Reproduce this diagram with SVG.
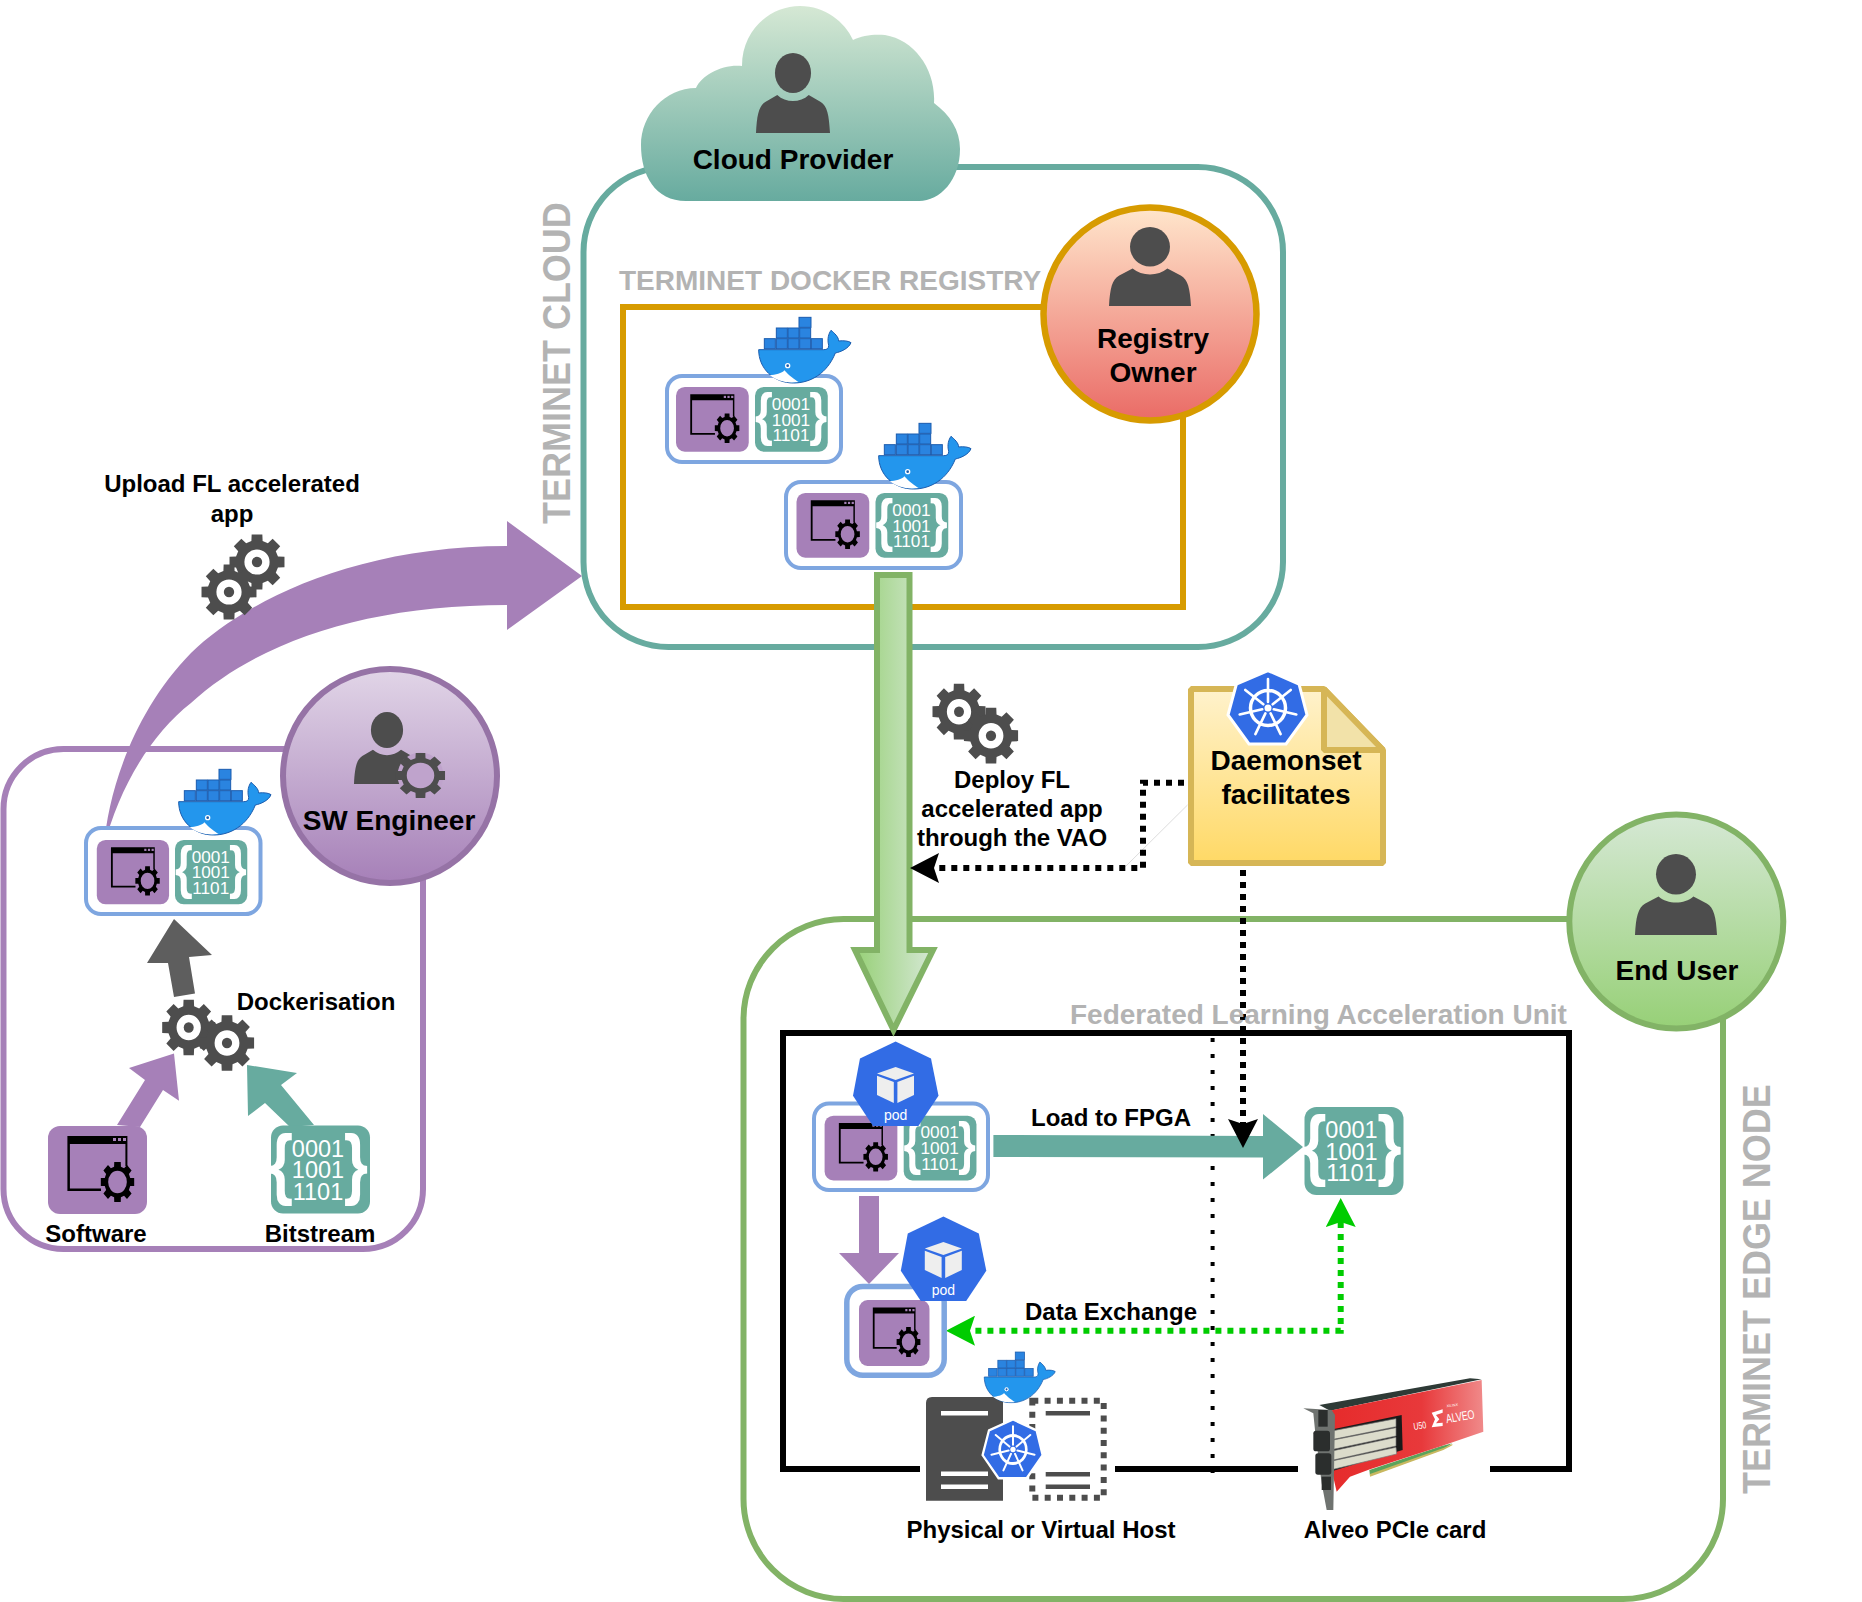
<svg xmlns="http://www.w3.org/2000/svg" width="1862" height="1602" viewBox="0 0 1862 1602">
<style>
text{font-family:"Liberation Sans",Arial,sans-serif}
.b{font-weight:700;fill:#000;text-anchor:middle;font-size:24px}
.h{font-weight:700;fill:#000;text-anchor:middle;font-size:28px}
.g{font-weight:700;fill:#B3B3B3;font-size:28px}
.v{font-weight:700;fill:#B3B3B3;font-size:36px}
.n{fill:#fff;font-size:23.5px;text-anchor:middle}
.br{fill:#fff;font-size:78px;font-weight:700;text-anchor:middle}
.pod{fill:#fff;font-size:14px;text-anchor:middle}
.box{fill:#fff;stroke:#7EA6E0;stroke-width:4}
.tl{fill:#67AB9F}.pu{fill:#A680B8}
.dk{fill:#4D4D4D}
.dot{fill:none;stroke:#000;stroke-width:6;stroke-dasharray:6 6}
.gdot{fill:none;stroke:#00CC00;stroke-width:6;stroke-dasharray:6 6}
.frame{fill:none}
.hp{fill:#326CE5}
</style>
<defs>
<linearGradient id="gCloud" x1="0" y1="0" x2="0" y2="1"><stop offset="0" stop-color="#D5E8D4"/><stop offset="1" stop-color="#67AB9F"/></linearGradient>
<linearGradient id="gOwner" x1="0" y1="0" x2="0" y2="1"><stop offset="0" stop-color="#FFE6CC"/><stop offset="1" stop-color="#EA6B66"/></linearGradient>
<linearGradient id="gSw" x1="0" y1="0" x2="0" y2="1"><stop offset="0" stop-color="#E1D5E7"/><stop offset="1" stop-color="#A680B8"/></linearGradient>
<linearGradient id="gEnd" x1="0" y1="0" x2="0" y2="1"><stop offset="0" stop-color="#D5E8D4"/><stop offset="1" stop-color="#97D077"/></linearGradient>
<linearGradient id="gNote" x1="0" y1="0" x2="0" y2="1"><stop offset="0" stop-color="#FFF2CC"/><stop offset="1" stop-color="#FFD966"/></linearGradient>
<linearGradient id="gDep" x1="0" y1="0" x2="1" y2="0"><stop offset="0" stop-color="#97D077"/><stop offset="1" stop-color="#D5E8D4"/></linearGradient>
<linearGradient id="gRed" x1="0" y1="0" x2="1" y2="0"><stop offset="0" stop-color="#E62B2B"/><stop offset=".6" stop-color="#E8393B"/><stop offset="1" stop-color="#F08A8A"/></linearGradient>
<marker id="aK" markerUnits="userSpaceOnUse" markerWidth="30" markerHeight="30" viewBox="0 0 30 30" refX="5" refY="15" orient="auto"><polygon points="0,0 29,15 0,30 5,15" fill="#000"/></marker>
<marker id="aG" markerUnits="userSpaceOnUse" markerWidth="30" markerHeight="30" viewBox="0 0 30 30" refX="5" refY="15" orient="auto-start-reverse"><polygon points="0,0 29,15 0,30 5,15" fill="#00CC00"/></marker>
<path id="gearP" fill-rule="evenodd" d="M14.97,-4.01 19.63,-3.82 19.63,3.82 14.97,4.01 13.42,7.75 16.58,11.18 11.18,16.58 7.75,13.42 4.01,14.97 3.82,19.63 -3.82,19.63 -4.01,14.97 -7.75,13.42 -11.18,16.58 -16.58,11.18 -13.42,7.75 -14.97,4.01 -19.63,3.82 -19.63,-3.82 -14.97,-4.01 -13.42,-7.75 -16.58,-11.18 -11.18,-16.58 -7.75,-13.42 -4.01,-14.97 -3.82,-19.63 3.82,-19.63 4.01,-14.97 7.75,-13.42 11.18,-16.58 16.58,-11.18 13.42,-7.75 Z M9,0 A9,9 0 1 0 -9,0 A9,9 0 1 0 9,0 Z"/>
<path id="gearW" fill-rule="evenodd" d="M14.97,-4.01 19.63,-3.82 19.63,3.82 14.97,4.01 13.42,7.75 16.58,11.18 11.18,16.58 7.75,13.42 4.01,14.97 3.82,19.63 -3.82,19.63 -4.01,14.97 -7.75,13.42 -11.18,16.58 -16.58,11.18 -13.42,7.75 -14.97,4.01 -19.63,3.82 -19.63,-3.82 -14.97,-4.01 -13.42,-7.75 -16.58,-11.18 -11.18,-16.58 -7.75,-13.42 -4.01,-14.97 -3.82,-19.63 3.82,-19.63 4.01,-14.97 7.75,-13.42 11.18,-16.58 16.58,-11.18 13.42,-7.75 Z M11,0 A11,11 0 1 0 -11,0 A11,11 0 1 0 11,0 Z"/>
<g id="gearD" class="dk"><use href="#gearP"/><circle r="3.7"/></g>
<symbol id="person" viewBox="0 0 80 80" preserveAspectRatio="none"><ellipse cx="40" cy="20" rx="19.5" ry="20" fill="#4D4D4D"/><path fill="#4D4D4D" d="M0 80C1 62 3 53 10 49L23 42C32 50 48 50 57 42L70 49C77 53 79 62 80 80Z"/></symbol>
<symbol id="whale" viewBox="290 17 285 204" preserveAspectRatio="none">
<g fill="#2A84E0" stroke="#1B5CAE" stroke-width="3">
<rect x="312" y="85" width="33" height="30"/><rect x="348" y="85" width="33" height="30"/><rect x="383" y="85" width="33" height="30"/><rect x="418" y="85" width="33" height="30"/><rect x="453" y="85" width="33" height="30"/>
<rect x="348" y="53" width="33" height="30"/><rect x="383" y="53" width="33" height="30"/><rect x="418" y="53" width="33" height="30"/>
<rect x="416" y="21" width="36" height="30"/></g>
<path fill="#2396ED" stroke="#1B5CAE" stroke-width="3" d="M295 118H490C500 118 505 115 505 105C500 85 505 70 512 60C522 68 535 80 535 92C550 90 565 92 572 97C565 115 540 125 525 128C500 190 450 218 400 218C340 218 295 175 295 118Z"/>
<path fill="#fff" d="M328 195C345 193 365 190 372 180C385 195 405 210 415 215C380 220 350 212 328 195Z"/>
<circle cx="382" cy="166" r="8" fill="#fff"/><circle cx="382" cy="166" r="4" fill="#1B5CAE"/>
</symbol>
<g id="soft"><rect class="pu" width="99" height="88" rx="12"/>
<path fill="#000" d="M19.4 10H79.4V40H77.4V18H21.9V62.5H53V65H19.4Z"/>
<g fill="#A680B8"><rect x="65" y="12" width="3" height="3"/><rect x="70" y="12" width="3" height="3"/><rect x="75" y="12" width="3" height="3"/></g>
<use href="#gearW" transform="translate(69.5,56) scale(.85,1.02)" fill="#000"/></g>
<g id="wheel" fill="none" stroke="#fff">
<circle r="17.5" stroke-width="3.5"/>
<g stroke-width="2.6" stroke-linecap="round"><path d="M0-6V-29M4.7-3.7 22.7-18.1M5.8 1.3 28.3 6.5M2.6 5.4 12.6 26.1M-2.6 5.4-12.6 26.1M-5.8 1.3-28.3 6.5M-4.7-3.7-22.7-18.1"/></g>
<circle r="3.5" fill="#fff" stroke="none"/></g>
<g id="k8s"><polygon points="0,-37.5 31,-24 39,7 18,36 -19,36 -40,7 -31.6,-24" class="hp" stroke="#fff" stroke-width="3"/><use href="#wheel"/></g>
<g id="cube"><polygon fill="#EEE" points="895.6,1067 914,1073.6 895.6,1080 877,1073.6"/><polygon fill="#EEE" points="877,1075.7 893.8,1082 893.8,1103 877,1095"/><polygon fill="#EEE" points="897.4,1082 914,1075.7 914,1095 897.4,1103"/></g>
</defs>
<rect width="1862" height="1602" fill="#fff"/>

<g id="containers">
<rect id="cloud-frame" class="frame" x="583.5" y="167" width="699.5" height="480" rx="85" stroke="#67AB9F" stroke-width="6"/>
<rect id="registry-frame" class="frame" x="623" y="307" width="560" height="300" stroke="#D79B00" stroke-width="6"/>
<rect id="edge-frame" class="frame" x="743.5" y="919" width="979.5" height="680" rx="100" stroke="#82B366" stroke-width="6"/>
<rect id="sw-frame" class="frame" x="3.5" y="749" width="419.5" height="500" rx="60" stroke="#A680B8" stroke-width="6"/>
<path id="flau-frame" class="frame" d="M920 1469H783V1033H1569V1469H1490M1298 1469H1115" stroke="#000" stroke-width="6"/>
</g>

<g id="connectors">
<path id="thin-dotted" fill="none" stroke="#000" stroke-width="4" stroke-dasharray="4 12" d="M1212.6 1038V1473"/>
<path id="upload-arrow" class="pu" d="M104 847C108 790 135 710 191 653C240 605 350 546 507 546V521L582 576L507 630V605C370 605 260 640 191 703C150 735 118 790 104 847Z"/>
<polygon id="docker-arrow" fill="#5E5E5E" points="174,919 212,955 189,957 195,993.5 174,997 168,963 147,963"/>
<polygon id="soft-arrow" class="pu" points="174,1053.6 179,1100.7 163,1090 140,1127 117,1125 145,1080 129,1068"/>
<polygon id="bit-arrow" class="tl" points="247,1065 297,1073 281,1085 314,1125 290,1127 265,1103 248,1116"/>
<path id="deploy-arrow" fill="url(#gDep)" stroke="#82B366" stroke-width="6" d="M877 575H909.5V950H933L893.5 1030L855 950H877Z"/>
<polygon id="load-arrow" class="tl" points="993.4,1135 1263,1136 1263,1114 1303,1147 1263,1179.6 1263,1157.5 993.4,1157"/>
<polygon id="pod-arrow" class="pu" points="859,1196 879,1196 879,1253 899,1253 869,1284 839,1253 859,1253"/>
<path id="deploy-thin" fill="none" stroke="#DDD" d="M1187.5 805L1125 867"/>
<path id="vao-link" class="dot" d="M1184 782.7H1143V868H934" marker-end="url(#aK)"/>
<path id="fpga-link" class="dot" d="M1243 870V1124" marker-end="url(#aK)"/>
<path id="data-link" class="gdot" d="M1340.7 1222V1330.7H970" marker-start="url(#aG)" marker-end="url(#aG)"/>
</g>

<g id="labels">
<text class="v" transform="translate(569.5,524) rotate(-90) scale(1,1.06)">TERMINET CLOUD</text>
<text class="v" transform="translate(1770,1494) rotate(-90) scale(1,1.06)">TERMINET EDGE NODE</text>
<text class="g" x="619" y="289.5">TERMINET DOCKER REGISTRY</text>
<text class="g" x="1070" y="1024">Federated Learning Acceleration Unit</text>
<text class="b" x="232" y="492">Upload FL accelerated</text>
<text class="b" x="232" y="521.5">app</text>
<text class="b" x="316" y="1010">Dockerisation</text>
<text class="b" x="1012" y="788">Deploy FL</text>
<text class="b" x="1012" y="817">accelerated app</text>
<text class="b" x="1012" y="846">through the VAO</text>
<text class="b" x="1111" y="1126">Load to FPGA</text>
<text class="b" x="1111" y="1320">Data Exchange</text>
<text class="b" x="1041" y="1538">Physical or Virtual Host</text>
<text class="b" x="1395" y="1537.5">Alveo PCIe card</text>
</g>

<g id="gears-upload"><use href="#gearD" transform="translate(257,562) scale(1.4)"/><use href="#gearD" transform="translate(229,592) scale(1.4)"/></g>
<g id="gears-docker"><use href="#gearD" transform="translate(188.7,1027.5) scale(1.35,1.42)"/><use href="#gearD" transform="translate(227,1043) scale(1.38,1.42)"/></g>
<g id="gears-deploy"><use href="#gearD" transform="translate(959,711.7) scale(1.35,1.42)"/><use href="#gearD" transform="translate(991,735.7) scale(1.38,1.42)"/></g>

<g id="cloud-provider">
<path fill="url(#gCloud)" d="M686 201C655 201 641 175 641 145C641 115 665 88 696 88C702 75 722 64 742 66C742 30 770 6 800 6C825 6 845 22 853 40C862 35 875 34 885 35C915 40 936 70 934 103C950 115 960 130 960 149C960 180 940 201 919 201Z"/>
<use href="#person" x="756" y="53" width="74" height="80"/>
<text class="h" x="793" y="169">Cloud Provider</text>
</g>

<g id="registry-owner">
<circle cx="1150" cy="314" r="106.5" fill="url(#gOwner)" stroke="#D79B00" stroke-width="6.5"/>
<use href="#person" x="1109" y="227" width="82" height="79"/>
<text class="h" x="1153" y="348">Registry</text>
<text class="h" x="1153" y="382">Owner</text>
</g>

<g id="image-1">
<rect class="box" x="667" y="376" width="174" height="86" rx="15"/>
<use href="#soft" transform="translate(676,387) scale(.735)"/>
<g transform="translate(755,387) scale(.735)"><rect class="tl" width="99" height="88" rx="12"/><text class="n"><tspan x="49" y="31">0001</tspan><tspan x="49" y="52.5">1001</tspan><tspan x="49" y="74">1101</tspan></text><text class="br" transform="translate(12,64) scale(.8,1)">{</text><text class="br" transform="translate(86,64) scale(.8,1)">}</text></g>
<use href="#whale" x="757" y="316" width="95" height="68"/>
</g>

<g id="image-2">
<rect class="box" x="786" y="482" width="175" height="86" rx="15"/>
<use href="#soft" transform="translate(796.5,493) scale(.735)"/>
<g transform="translate(875.5,493) scale(.735)"><rect class="tl" width="99" height="88" rx="12"/><text class="n"><tspan x="49" y="31">0001</tspan><tspan x="49" y="52.5">1001</tspan><tspan x="49" y="74">1101</tspan></text><text class="br" transform="translate(12,64) scale(.8,1)">{</text><text class="br" transform="translate(86,64) scale(.8,1)">}</text></g>
<use href="#whale" x="877" y="422" width="95" height="68"/>
</g>

<g id="sw-engineer">
<circle cx="390" cy="776" r="107" fill="url(#gSw)" stroke="#9673A6" stroke-width="6"/>
<use href="#person" x="354" y="712" width="66" height="72"/>
<circle cx="420.5" cy="775.5" r="23" fill="#BFA3CC"/>
<use href="#gearW" transform="translate(420.5,775.5) scale(1.25,1.15)" fill="#4D4D4D"/>
<text class="h" x="389" y="830">SW Engineer</text>
</g>

<g id="image-local">
<rect class="box" x="86" y="828" width="174.5" height="86" rx="15"/>
<use href="#soft" transform="translate(96.8,840) scale(.73)"/>
<g transform="translate(175,840) scale(.73)"><rect class="tl" width="99" height="88" rx="12"/><text class="n"><tspan x="49" y="31">0001</tspan><tspan x="49" y="52.5">1001</tspan><tspan x="49" y="74">1101</tspan></text><text class="br" transform="translate(12,64) scale(.8,1)">{</text><text class="br" transform="translate(86,64) scale(.8,1)">}</text></g>
<use href="#whale" x="177" y="768" width="95" height="68"/>
</g>

<g id="software"><use href="#soft" transform="translate(48,1126)"/><text class="b" x="96" y="1242">Software</text></g>
<g id="bitstream"><g transform="translate(271,1125.5)"><rect class="tl" width="99" height="88" rx="12"/><text class="n"><tspan x="47" y="31">0001</tspan><tspan x="47" y="52.5">1001</tspan><tspan x="47" y="74">1101</tspan></text><text class="br" transform="translate(10,64) scale(.8,1)">{</text><text class="br" transform="translate(85,64) scale(.8,1)">}</text></g><text class="b" x="320" y="1242">Bitstream</text></g>

<g id="daemonset">
<path fill="url(#gNote)" stroke="#D6B656" stroke-width="6" stroke-miterlimit="1" d="M1191 689H1324L1383 750V863H1191Z"/>
<path fill="#F2E2A9" stroke="#D6B656" stroke-width="6" stroke-miterlimit="1" d="M1324 689V750H1383Z"/>
<use href="#k8s" transform="translate(1268,708)"/>
<text class="h" x="1286" y="770">Daemonset</text>
<text class="h" x="1286" y="803.5">facilitates</text>
</g>

<g id="end-user">
<circle cx="1676.3" cy="921.5" r="107" fill="url(#gEnd)" stroke="#82B366" stroke-width="6"/>
<use href="#person" x="1635" y="854" width="82" height="81"/>
<text class="h" x="1677" y="980">End User</text>
</g>

<g id="pod-image">
<rect class="box" x="814" y="1103.4" width="174" height="86.6" rx="15"/>
<use href="#soft" transform="translate(824.6,1115.7) scale(.735)"/>
<g transform="translate(903.7,1115.7) scale(.735)"><rect class="tl" width="99" height="88" rx="12"/><text class="n"><tspan x="49" y="31">0001</tspan><tspan x="49" y="52.5">1001</tspan><tspan x="49" y="74">1101</tspan></text><text class="br" transform="translate(12,64) scale(.8,1)">{</text><text class="br" transform="translate(86,64) scale(.8,1)">}</text></g>
<polygon class="hp" points="895.6,1041.4 931,1058.6 938.5,1095.7 918.4,1126 873,1126 853,1095.7 860,1058.6"/>
<use href="#cube"/>
<text class="pod" x="895.6" y="1120">pod</text>
</g>

<g id="pod-software">
<rect fill="#fff" stroke="#7EA6E0" stroke-width="5.5" x="846.8" y="1286.4" width="97.4" height="88.8" rx="16"/>
<use href="#soft" transform="translate(859,1300) scale(.712,.75)"/>
<g transform="translate(47.8,175)"><polygon class="hp" points="895.6,1041.4 931,1058.6 938.5,1095.7 918.4,1126 873,1126 853,1095.7 860,1058.6"/><use href="#cube"/><text class="pod" x="895.6" y="1120">pod</text></g>
</g>

<g id="fpga"><g transform="translate(1304.5,1107)"><rect class="tl" width="99" height="88" rx="12"/><text class="n"><tspan x="47" y="31">0001</tspan><tspan x="47" y="52.5">1001</tspan><tspan x="47" y="74">1101</tspan></text><text class="br" transform="translate(10,64) scale(.8,1)">{</text><text class="br" transform="translate(85,64) scale(.8,1)">}</text></g></g>

<g id="host">
<path class="dk" d="M926 1500.7V1403Q926 1397 932 1397H1003V1500.7Z"/>
<g fill="#fff"><rect x="941" y="1411" width="47" height="4.5"/><rect x="941" y="1471.5" width="47" height="4.5"/><rect x="941" y="1484.5" width="47" height="4.5"/></g>
<rect x="1032.3" y="1400.7" width="71.4" height="97" fill="none" stroke="#4D4D4D" stroke-width="6" stroke-dasharray="6 6.3"/>
<g class="dk"><rect x="1045.7" y="1411" width="44.3" height="4.5"/><rect x="1045.7" y="1472" width="44.3" height="4.5"/><rect x="1045.7" y="1484.5" width="44.3" height="4.5"/></g>
<use href="#whale" x="983" y="1351" width="73" height="52.5"/>
<use href="#k8s" transform="translate(1013,1449.5) scale(.76,.8)"/>
</g>

<g id="alveo" transform="translate(1290,1370) scale(.33333)">
<polygon fill="#2E3A36" points="88,105 540,25 575,28 120,122"/>
<polygon fill="#5BA35B" points="238,300 455,228 487,220 460,238 240,318"/>
<polygon fill="#C9B860" points="240,312 460,234 487,222 487,226 460,240 240,320"/>
<polygon fill="url(#gRed)" points="118,122 575,30 580,185 455,228 240,298 180,320 140,365 125,300"/>
<polygon fill="#1A1A1A" points="118,180 335,135 338,240 120,305"/>
<g fill="#DCDCCB" stroke="#777" stroke-width="2">
<polygon points="130,182 318,146 318,170 130,208"/>
<polygon points="130,210 318,173 318,198 130,238"/>
<polygon points="130,242 318,202 318,228 130,270"/>
<polygon points="130,272 318,232 320,252 130,298"/>
</g>
<polygon fill="#6F7370" points="40,115 125,120 135,135 130,420 110,420 95,340 75,180 70,130"/>
<g fill="#2B2E2D"><rect x="70" y="182" width="50" height="62" rx="8"/><rect x="76" y="250" width="48" height="64" rx="8"/><rect x="85" y="120" width="28" height="50"/><rect x="95" y="320" width="28" height="40"/></g>
<polygon fill="#fff" points="425,128 458,118 458,128 438,135 448,148 438,160 458,158 458,168 425,172 435,148"/>
<text transform="translate(372,180) rotate(-8) scale(.7,1)" fill="#fff" font-size="30">U50</text>
<text transform="translate(470,112) rotate(-8)" fill="#fff" font-size="11">XILINX</text>
<text transform="translate(470,160) rotate(-10) scale(.7,1)" fill="#fff" font-size="38">ALVEO</text>
</g>
</svg>
